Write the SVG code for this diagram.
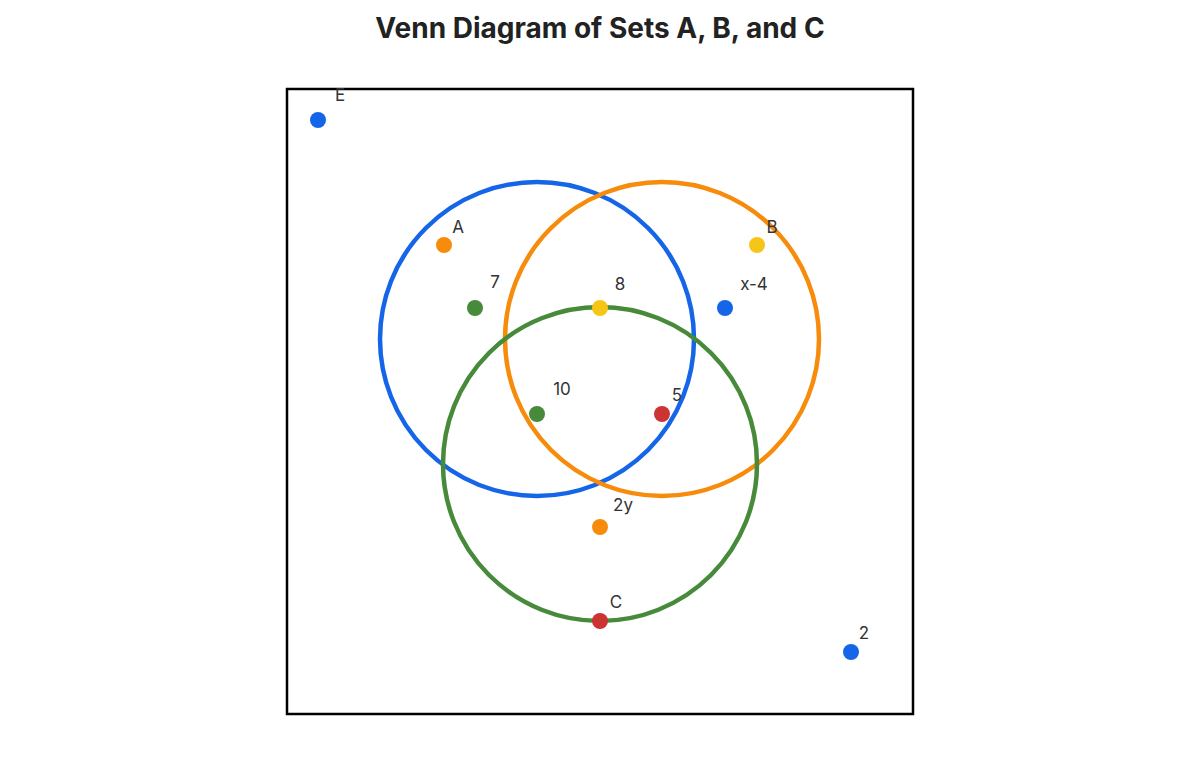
<svg xmlns="http://www.w3.org/2000/svg" width="1200" height="763" viewBox="0 0 1200 763">
<style>
.t{font-family:"Inter","Liberation Sans",sans-serif;font-size:17px;fill:#333;text-anchor:middle}
.c{fill:none;stroke-width:4.5}
</style>
<rect width="1200" height="763" fill="#fff"/>
<text x="600" y="38" font-family="Inter, 'Liberation Sans', sans-serif" font-size="28" font-weight="bold" fill="#222" text-anchor="middle">Venn Diagram of Sets A, B, and C</text>
<rect x="287" y="89" width="626" height="625" fill="none" stroke="#000" stroke-width="2.5"/>
<g id="connectors">
<circle id="setA" class="c" cx="537" cy="339" r="157" stroke="#1565e8"/>
<circle id="setB" class="c" cx="662" cy="339" r="157" stroke="#f78c0c"/>
<circle id="setC" class="c" cx="600" cy="464" r="157" stroke="#468a3a"/>
</g>
<g id="E"><circle cx="318" cy="120" r="8" fill="#1565e8"/><text class="t" x="340" y="101">E</text></g>
<g id="A"><circle cx="444" cy="245" r="8" fill="#f78c0c"/><text class="t" x="458" y="233">A</text></g>
<g id="n7"><circle cx="475" cy="308" r="8" fill="#468a3a"/><text class="t" x="495" y="288">7</text></g>
<g id="n8"><circle cx="600" cy="308" r="8" fill="#f5c518"/><text class="t" x="620" y="290">8</text></g>
<g id="x4"><circle cx="725" cy="308" r="8" fill="#1565e8"/><text class="t" x="754" y="290">x-4</text></g>
<g id="B"><circle cx="757" cy="245" r="8" fill="#f5c518"/><text class="t" x="772" y="233">B</text></g>
<g id="n10"><circle cx="537" cy="414" r="8" fill="#468a3a"/><text class="t" x="562" y="395">10</text></g>
<g id="n5"><circle cx="662" cy="414" r="8" fill="#cc3333"/><text class="t" x="677" y="401">5</text></g>
<g id="y2"><circle cx="600" cy="527" r="8" fill="#f78c0c"/><text class="t" x="623" y="511">2y</text></g>
<g id="C"><circle cx="600" cy="621" r="8" fill="#cc3333"/><text class="t" x="616" y="608">C</text></g>
<g id="n2"><circle cx="851" cy="652" r="8" fill="#1565e8"/><text class="t" x="864" y="639">2</text></g>
</svg>
